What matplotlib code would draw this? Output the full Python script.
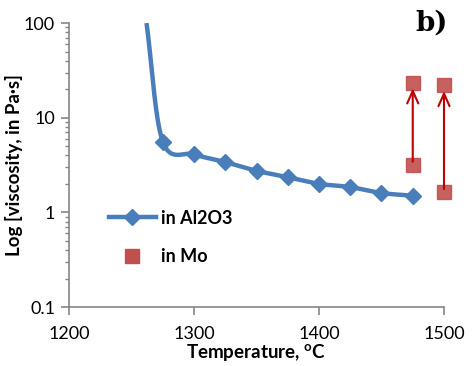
import matplotlib
matplotlib.use("Agg")
import matplotlib.pyplot as plt
from matplotlib.lines import Line2D
import numpy as np

plt.rcParams['font.family'] = ['Lato', 'DejaVu Sans']

# viscosity in Al2O3 crucible (first point is where the curve leaves the top of the chart)
temp_al = [1262, 1275, 1300, 1325, 1350, 1375, 1400, 1425, 1450, 1475]
visc_al = [100, 5.6, 4.1, 3.4, 2.75, 2.35, 2.0, 1.85, 1.6, 1.5]

# viscosity in Mo crucible: start and end values
temp_mo = [1475, 1500]
visc_mo_low = [3.2, 1.65]
visc_mo_high = [23.5, 22.0]

blue = '#4a7ebb'
red = '#c0504d'
arrow_red = '#c00000'


def smooth(xs, ys, n=30):
    # catmull-rom in screen-like space (x scaled, log y) like Excel's smoothed line
    px = np.array(xs, float) * 1.25
    py = np.log10(ys) * 94.7
    P = np.column_stack([px, py])
    P = np.vstack([P[0] - (P[1] - P[0]), P, P[-1] + (P[-1] - P[-2])])
    out = []
    for i in range(1, len(P) - 2):
        p0, p1, p2, p3 = P[i - 1], P[i], P[i + 1], P[i + 2]
        t = np.linspace(0, 1, n)[:, None]
        c1 = p1 + (p2 - p0) / 6
        c2 = p2 - (p3 - p1) / 6
        seg = (1 - t) ** 3 * p1 + 3 * (1 - t) ** 2 * t * c1 + 3 * (1 - t) * t ** 2 * c2 + t ** 3 * p2
        out.append(seg)
    out = np.vstack(out)
    return out[:, 0] / 1.25, 10 ** (out[:, 1] / 94.7)


fig = plt.figure(figsize=(4.74, 3.66), dpi=100)
ax = fig.add_axes([0.1456, 0.1612, 0.7911, 0.7758])

sx, sy = smooth(temp_al, visc_al)
ax.plot(sx, sy, color=blue, lw=3.2, solid_capstyle='butt', clip_on=True)
ax.plot(temp_al[1:], visc_al[1:], ls='none', marker='D', ms=8, color=blue)

ax.plot(temp_mo, visc_mo_low, ls='none', marker='s', ms=10, color=red, alpha=0.9, zorder=3, clip_on=False)
ax.plot(temp_mo, visc_mo_high, ls='none', marker='s', ms=10, color=red, alpha=0.9, zorder=3, clip_on=False)
for t, lo, hi in zip(temp_mo, visc_mo_low, visc_mo_high):
    a = ax.annotate('', xy=(t, hi * 0.93), xytext=(t, lo),
                    arrowprops=dict(arrowstyle='->,head_length=0.9,head_width=0.4',
                                    color=arrow_red, lw=1.5), zorder=4)
    a.arrow_patch.set_clip_on(False)

ax.set_yscale('log')
ax.set_ylim(0.1, 100)
ax.set_xlim(1200, 1500)
ax.set_xticks([1200, 1300, 1400, 1500])
ax.set_yticks([0.1, 1, 10, 100])
ax.set_yticklabels(['0.1', '1', '10', '100'])
ax.spines['top'].set_visible(False)
ax.spines['right'].set_visible(False)
for s in ['left', 'bottom']:
    ax.spines[s].set_color('#868686')
    ax.spines[s].set_linewidth(1.2)
ax.tick_params(axis='both', which='major', labelsize=13, color='#868686', length=6, width=1.2, pad=4)
ax.tick_params(axis='y', which='minor', color='#868686', length=3, width=1)
ax.tick_params(axis='x', which='major', pad=8)

ax.set_xlabel('Temperature, $^{\\mathregular{o}}$C', fontsize=13.5, fontweight='bold', labelpad=0)
ax.set_ylabel('Log [viscosity, in Pa·s]', fontsize=13.5, fontweight='bold', labelpad=1)

handles = [Line2D([], [], color=blue, lw=3.2, marker='D', ms=8),
           Line2D([], [], ls='none', color=red, marker='s', ms=10)]
ax.legend(handles, ['in Al2O3', 'in Mo'], loc='upper left', bbox_to_anchor=(0.063, 0.40),
          frameon=False, prop={'weight': 'bold', 'size': 13}, labelspacing=1.2,
          handlelength=2.6, handletextpad=0.3)

fig.text(0.945, 0.915, 'b)', fontsize=20, fontweight='bold', family='DejaVu Serif', ha='right')

fig.savefig('out.png', dpi=100)
